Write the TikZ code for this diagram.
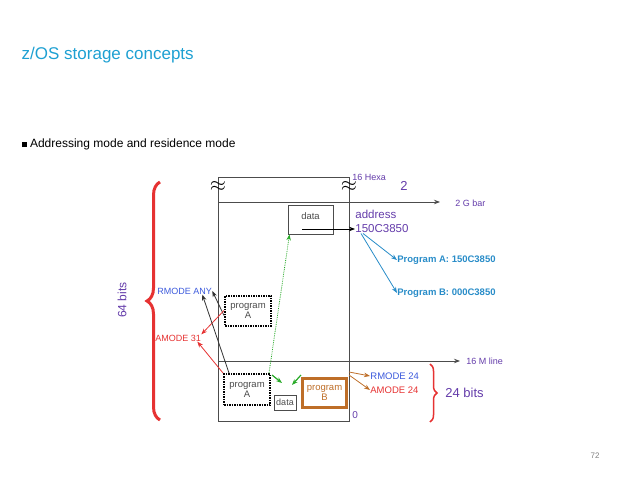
\documentclass[tikz,border=0pt]{standalone}
\usepackage{fontspec}
\setmainfont{Liberation Sans}
\usetikzlibrary{decorations.pathreplacing,arrows.meta}
\definecolor{tcyan}{RGB}{30,160,210}
\definecolor{tpurple}{RGB}{100,60,170}
\definecolor{tblue}{RGB}{60,90,220}
\definecolor{tred}{RGB}{230,50,50}
\definecolor{tbrown}{RGB}{190,110,40}
\definecolor{tgreen}{RGB}{40,170,40}
\definecolor{pblue}{RGB}{40,140,200}
\begin{document}
\begin{tikzpicture}[x=1pt,y=-1pt,line width=0.8pt,
  lbl/.style={inner sep=0,anchor=west,font=\fontsize{9}{10}\selectfont},
  prog/.style={draw,dash pattern=on 1.5pt off 1pt,line width=2pt,align=center,font=\fontsize{9.5}{10}\selectfont,text=black!70,inner sep=0},
  arr/.style={-{Stealth[length=6pt]}}]
\useasboundingbox (0,0) rectangle (638,479);
\node[anchor=west,text=tcyan,font=\fontsize{17}{20}\selectfont] (title) at (18,55) {z/OS storage concepts};
\node[anchor=west,font=\fontsize{12}{14}\selectfont] (bul) at (18,144) {\rule{5pt}{5pt} Addressing mode and residence mode};
\node[text=gray,font=\fontsize{8}{9}\selectfont] (pg) at (595,456) {72};
% main rect
\node[draw,black!70,minimum width=131pt,minimum height=244pt,inner sep=0] (mem) at (283.5,299) {};
\node[font=\fontsize{20}{20}\selectfont] (w1) at (218,186) {$\approx$};
\node[font=\fontsize{20}{20}\selectfont] (w2) at (349,186) {$\approx$};
\coordinate (g0) at (218,202); \coordinate (g1) at (440,202);
\draw[arr,black!70] (g0) -- (g1);
\node[lbl,text=tpurple] (gbar) at (455,203) {2 G bar};
\coordinate (m0) at (218,361); \coordinate (m1) at (460,361);
\draw[arr,black!70] (m0) -- (m1);
\node[lbl,text=tpurple] (mline) at (466,361) {16 M line};
\node[lbl,text=tpurple] (hexa) at (352,177) {16 Hexa};
\node[lbl,text=tpurple,font=\fontsize{13}{14}\selectfont] (two) at (400,186) {2};
\node[lbl,text=tpurple,font=\fontsize{10}{11}\selectfont] (zero) at (352,415) {0};
% data box top
\node[draw,black!70,minimum width=45pt,minimum height=29pt,inner sep=0,font=\fontsize{9.5}{10}\selectfont,text=black!70] (data) at (310.5,219.5) {\raisebox{6pt}{data}};
\coordinate (ds) at (302,229);
\node[lbl,text=tpurple,font=\fontsize{11.5}{13}\selectfont] (addr) at (355,214) {address};
\node[lbl,text=tpurple,font=\fontsize{11.5}{13}\selectfont] (hex) at (355,229) {150C3850};
\draw[arr,black] (ds) -- (hex.west);
\node[lbl,text=pblue,font=\bfseries\fontsize{9.5}{10}\selectfont] (pa) at (397,260) {Program A: 150C3850};
\node[lbl,text=pblue,font=\bfseries\fontsize{9.5}{10}\selectfont] (pb) at (397,293) {Program B: 000C3850};
\draw[arr,pblue] ([xshift=8pt]hex.south west) -- (pa.west);
\draw[arr,pblue] ([xshift=6pt]hex.south west) -- (pb.west);
% programs
\node[prog,minimum width=46pt,minimum height=30pt] (pA1) at (248,310.5) {program\\A};
\node[prog,minimum width=46pt,minimum height=31pt] (pA2) at (247,389.5) {program\\A};
\node[draw,black!70,minimum width=22pt,minimum height=15pt,inner sep=0,font=\fontsize{9}{10}\selectfont] (sd) at (285,402.5) {data};
\node[draw=tbrown,line width=2.2pt,minimum width=44pt,minimum height=29pt,inner sep=0,align=center,text=tbrown,font=\fontsize{9.5}{10}\selectfont] (pB) at (324.5,393) {program\\B};
\node[lbl,text=tblue] (rany) at (157,291) {RMODE ANY};
\node[lbl,text=tred] (a31) at (155,338) {AMODE 31};
\node[lbl,text=tblue,font=\fontsize{9.5}{10}\selectfont] (r24) at (370,376) {RMODE 24};
\node[lbl,text=tred,font=\fontsize{9.5}{10}\selectfont] (a24) at (370,390) {AMODE 24};
\draw[arr,black!80] ([yshift=-5pt]pA1.west) -- (rany.east);
\draw[arr,tred] ([yshift=0pt]pA1.west) -- (a31.north east);
\draw[arr,black!80] ([xshift=6pt]pA2.north west) -- ([xshift=-10pt]rany.south east);
\draw[arr,tred] (pA2.north west) -- ([xshift=-4pt]a31.south east);
\draw[arr,tgreen,densely dotted] ([xshift=22pt]pA2.north) -- ([xshift=-21pt]data.south);
\draw[arr,tgreen,line width=1.2pt] (272,375) -- (282,383);
\draw[arr,tgreen,line width=1.2pt] (301,375) -- (292,385);
\draw[arr,tbrown] (349,372) -- (r24.west);
\draw[arr,tbrown] (349,375) -- (a24.west);
% braces
\coordinate (b1) at (160,182); \coordinate (b2) at (160,420);
\draw[tred,line width=3pt,decorate,decoration={brace,amplitude=13pt}] (b2) -- (b1);
\node[rotate=90,text=tpurple,font=\fontsize{12}{14}\selectfont] (sixty) at (122,300) {64 bits};
\coordinate (c1) at (430,364); \coordinate (c2) at (430,422);
\draw[tred,line width=1.5pt,decorate,decoration={brace,amplitude=7pt}] (c1) -- (c2);
\node[lbl,text=tpurple,font=\fontsize{13}{15}\selectfont] (tf) at (445,393) {24 bits};
\end{tikzpicture}
\end{document}
